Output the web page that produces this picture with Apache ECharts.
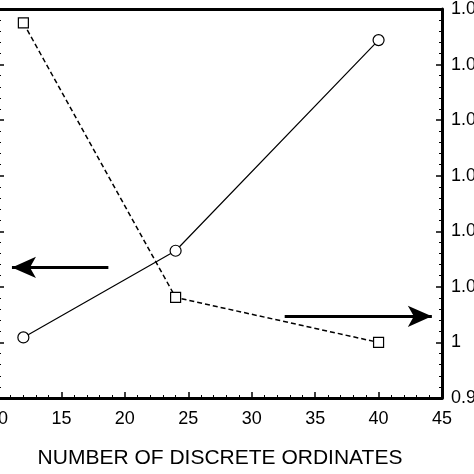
<!DOCTYPE html>
<html><head><meta charset="utf-8">
<script src="https://cdn.jsdelivr.net/npm/echarts@6/dist/echarts.min.js"></script>
<style>body{margin:0;overflow:hidden;width:474px;height:474px;position:relative}
#main{position:absolute;left:-60px;top:0;width:560px;height:474px}</style>
</head><body><div id="main"></div>
<script>
// discrete ordinates on the x axis
var ordinates = [12, 24, 40];
// left axis series (circles, solid) - left scale labels are cut off in the picture
var leftValues = [1.09, 2.65, 6.44];
// right axis series (squares, dashed)
var rightValues = [1.0575, 1.0081, 1.0];
var xTicks = [10, 15, 20, 25, 30, 35, 40, 45];

var chart = echarts.init(document.getElementById('main'));
var labelStyle = {color: '#000', fontFamily: 'Liberation Sans', fontSize: 18};
var axisCommon = {
    axisLine: {show: true, lineStyle: {color: '#000', width: 3}},
    axisTick: {inside: true, length: 6, lineStyle: {color: '#000', width: 1.5}},
    minorTick: {show: true, splitNumber: 5, length: 3, lineStyle: {color: '#000'}},
    splitLine: {show: false}
};
chart.setOption({
    animation: false,
    grid: {left: 58, right: 58, top: 6, bottom: 69},
    xAxis: [Object.assign({}, axisCommon, {
        type: 'value', min: xTicks[0], max: xTicks[xTicks.length - 1], interval: 5,
        name: 'NUMBER OF DISCRETE ORDINATES', nameLocation: 'middle', nameGap: 50,
        nameTextStyle: {color: '#000', fontFamily: 'Liberation Sans', fontSize: 21},
        axisLabel: Object.assign({margin: 12}, labelStyle)
    }), {type: 'value', position: 'top', min: 10, max: 45, axisLine: {show: true, lineStyle: {color: '#000', width: 3}},
        axisTick: {show: false}, axisLabel: {show: false}, splitLine: {show: false}}],
    yAxis: [Object.assign({}, axisCommon, {
        type: 'value', min: 0, max: 7, interval: 1,
        axisLabel: {show: false}
    }), Object.assign({}, axisCommon, {
        type: 'value', min: 0.99, max: 1.06, interval: 0.01, position: 'right',
        axisLabel: Object.assign({margin: 9,
            formatter: function (v) { return v === 1 ? '1' : v.toFixed(2); }}, labelStyle)
    })],
    series: [{
        type: 'line', yAxisIndex: 0,
        data: ordinates.map(function (x, i) { return [x, leftValues[i]]; }),
        symbol: 'circle', symbolSize: 11,
        itemStyle: {color: '#fff', borderColor: '#000', borderWidth: 1.2},
        lineStyle: {color: '#000', width: 1.2},
        markLine: {silent: true, symbol: ['arrow', 'none'], symbolSize: [16, 24],
            lineStyle: {color: '#000', width: 3, type: 'solid'}, label: {show: false},
            data: [[{coord: [11.1, 2.35]}, {coord: [18.7, 2.35]}]]}
    }, {
        type: 'line', yAxisIndex: 1,
        data: ordinates.map(function (x, i) { return [x, rightValues[i]]; }),
        symbol: 'rect', symbolSize: 10,
        itemStyle: {color: '#fff', borderColor: '#000', borderWidth: 1.2},
        lineStyle: {color: '#000', width: 1.5, type: [5, 3]},
        markLine: {silent: true, symbol: ['none', 'arrow'], symbolSize: [16, 24],
            lineStyle: {color: '#000', width: 3, type: 'solid'}, label: {show: false},
            data: [[{coord: [32.6, 1.0047]}, {coord: [44.2, 1.0047]}]]}
    }]
});
</script></body></html>
